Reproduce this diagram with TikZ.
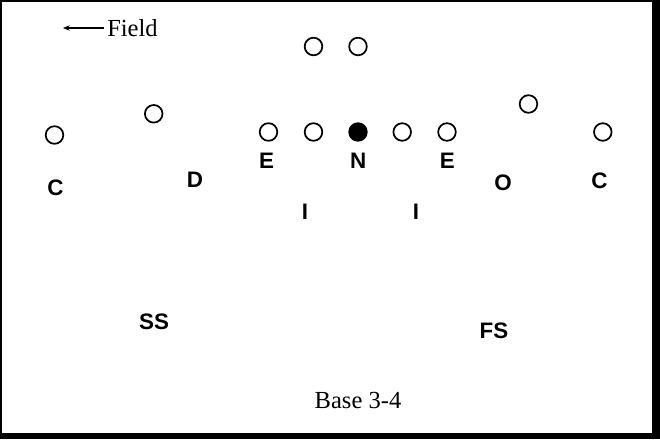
\documentclass[tikz,border=0pt]{standalone}
\usepackage{fontspec}
\setmainfont{Liberation Serif}
\newfontfamily\labfont{Liberation Sans}
\usetikzlibrary{arrows.meta}
\begin{document}
\begin{tikzpicture}[x=0.75pt,y=-0.75pt,
  player/.style={circle,draw,line width=1.3pt,minimum size=13.2pt,inner sep=0pt},
  snapper/.style={player,fill=black},
  defpos/.style={font=\labfont\bfseries\fontsize{16.8}{18}\selectfont,inner sep=0pt},
  captext/.style={font=\fontsize{18.4}{20}\selectfont,inner sep=0pt}]
\useasboundingbox (0,0) rectangle (660,439);
\fill[black] (0,0) rectangle (660,439);
\fill[white] (2,2) rectangle (652,432.5);
% offense
\node[player] (q1) at (313.5,46.5) {};
\node[player] (q2) at (358,46.5) {};
\node[player] (l1) at (268.5,132) {};
\node[player] (l2) at (313.5,132) {};
\node[snapper] (cn) at (358,132) {};
\node[player] (l4) at (402.2,132) {};
\node[player] (l5) at (447,132) {};
\node[player] (wl) at (54.5,135) {};
\node[player] (sl) at (153.7,113.8) {};
\node[player] (sr) at (528.5,104) {};
\node[player] (wr) at (602.8,132) {};
% defense
\node[defpos] (cl) at (55.5,188) {C};
\node[defpos] (d) at (195,180) {D};
\node[defpos] (e1) at (266.7,160.7) {E};
\node[defpos] (n) at (358.3,161) {N};
\node[defpos] (e2) at (447.3,161) {E};
\node[defpos] (i1) at (305,212) {I};
\node[defpos] (i2) at (416,212) {I};
\node[defpos] (o) at (503,183) {O};
\node[defpos] (cr) at (599.5,181) {C};
\node[defpos] (ss) at (154,322) {SS};
\node[defpos] (fs) at (494,331) {FS};
% labels
\node[captext,anchor=west] (field) at (107,28.5) {Field};
\coordinate (ftip) at (63,28);
\coordinate (fstart) at (104,28);
\draw[line width=0.8pt,-{Stealth[length=5pt,width=4pt]}] (fstart) -- (ftip);
\node[captext] (base) at (358,400) {Base 3-4};
\end{tikzpicture}
\end{document}
